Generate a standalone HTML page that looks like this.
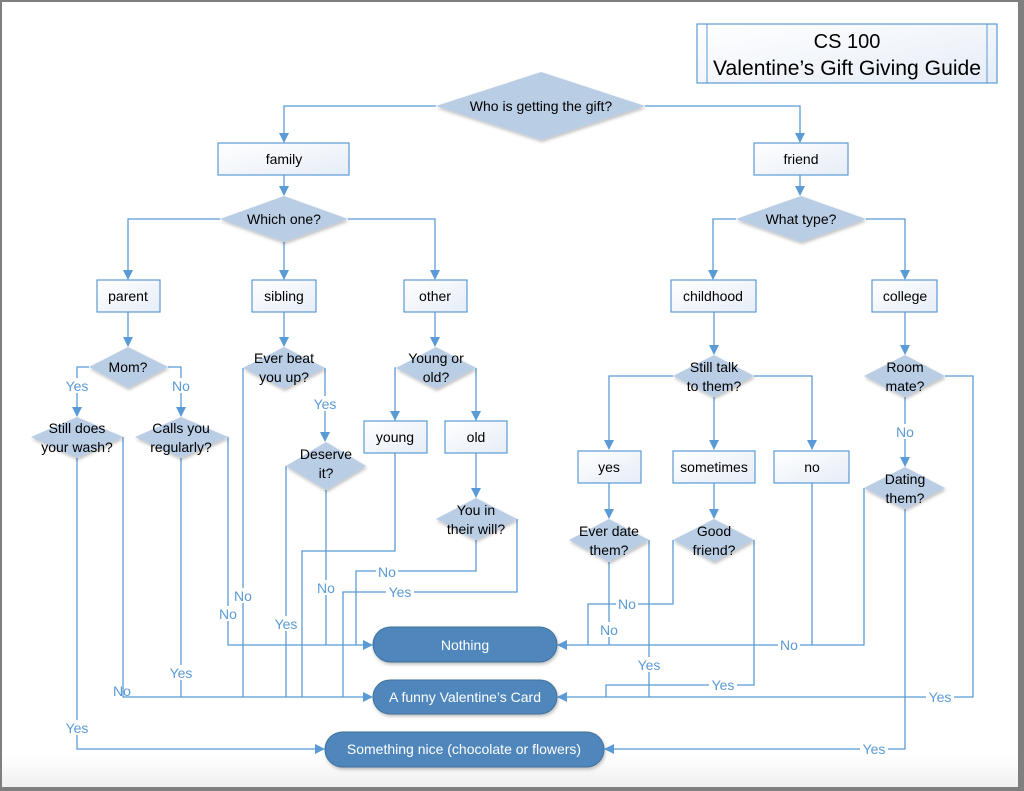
<!DOCTYPE html>
<html><head><meta charset="utf-8"><style>
html,body{margin:0;padding:0;background:#7f7f7f;}
svg{display:block;}
text{font-family:"Liberation Sans",sans-serif;}
</style></head><body>
<svg width="1024" height="791" xmlns="http://www.w3.org/2000/svg">
<defs>
<linearGradient id="bg" x1="0" y1="0" x2="0" y2="1">
<stop offset="0.96" stop-color="#ffffff"/><stop offset="1" stop-color="#f0f0f0"/></linearGradient>
<linearGradient id="bx" x1="0" y1="0" x2="1" y2="1">
<stop offset="0" stop-color="#ffffff"/><stop offset="1" stop-color="#e6edf7"/></linearGradient>
<marker id="a" markerWidth="10" markerHeight="10" refX="9" refY="5" orient="auto" markerUnits="userSpaceOnUse">
<path d="M0,0 L10,5 L0,10 z" fill="#5b9bd5"/></marker>
<filter id="sh" x="-10%" y="-10%" width="130%" height="140%"><feDropShadow dx="1" dy="2" stdDeviation="1.5" flood-color="#000" flood-opacity="0.25"/></filter>
</defs>
<rect x="2" y="2" width="1016" height="785" fill="url(#bg)"/>

<g fill="none" stroke="#5b9bd5" stroke-width="1.3">
<polyline points="436,106 284,106 284,142" marker-end="url(#a)"/>
<polyline points="645,106 800,106 800,142" marker-end="url(#a)"/>
<line x1="284" y1="175" x2="284" y2="195" marker-end="url(#a)"/>
<line x1="800" y1="175" x2="800" y2="195" marker-end="url(#a)"/>
<polyline points="220,219 128,219 128,279" marker-end="url(#a)"/>
<polyline points="348,219 435,219 435,279" marker-end="url(#a)"/>
<line x1="284" y1="242" x2="284" y2="279" marker-end="url(#a)"/>
<polyline points="736,219 713,219 713,279" marker-end="url(#a)"/>
<polyline points="866,219 905,219 905,279" marker-end="url(#a)"/>
<line x1="128" y1="312" x2="128" y2="346" marker-end="url(#a)"/>
<line x1="284" y1="312" x2="284" y2="346" marker-end="url(#a)"/>
<line x1="435" y1="312" x2="435" y2="346" marker-end="url(#a)"/>
<line x1="714" y1="312" x2="714" y2="354" marker-end="url(#a)"/>
<line x1="905" y1="312" x2="905" y2="354" marker-end="url(#a)"/>
<polyline points="89,367 77,367 77,416" marker-end="url(#a)"/>
<polyline points="168,367 181,367 181,416" marker-end="url(#a)"/>
<polyline points="77,458 77,749 324,749" marker-end="url(#a)"/>
<polyline points="123,437 123,697 372,697" marker-end="url(#a)"/>
<line x1="181" y1="458" x2="181" y2="697"/>
<polyline points="228,437 228,645 372,645" marker-end="url(#a)"/>
<polyline points="243,368 243,697"/>
<polyline points="325,368 325,441" marker-end="url(#a)"/>
<polyline points="286,466 286,697"/>
<line x1="326" y1="490" x2="326" y2="645"/>
<polyline points="396,368 395,368 395,420" marker-end="url(#a)"/>
<polyline points="476,368 476,420" marker-end="url(#a)"/>
<line x1="476" y1="453" x2="476" y2="497" marker-end="url(#a)"/>
<polyline points="395,453 395,551 302,551 302,697"/>
<polyline points="476,540 476,571 356,571 356,645"/>
<polyline points="517,519 517,592 343,592 343,697"/>
<polyline points="673,376 609,376 609,449" marker-end="url(#a)"/>
<line x1="714" y1="397" x2="714" y2="449" marker-end="url(#a)"/>
<polyline points="754,376 812,376 812,449" marker-end="url(#a)"/>
<line x1="609" y1="483" x2="609" y2="518" marker-end="url(#a)"/>
<line x1="714" y1="483" x2="714" y2="518" marker-end="url(#a)"/>
<line x1="609" y1="562" x2="609" y2="645"/>
<line x1="649" y1="540" x2="649" y2="697"/>
<polyline points="673,540 673,604 588,604 588,645"/>
<polyline points="754,540 754,685 606,685 606,697"/>
<polyline points="812,483 812,645"/>
<polyline points="864,488 864,645 558,645" marker-end="url(#a)"/>
<line x1="905" y1="397" x2="905" y2="466" marker-end="url(#a)"/>
<polyline points="905,509 905,749 605,749" marker-end="url(#a)"/>
<polyline points="945,376 973,376 973,697 558,697" marker-end="url(#a)"/>
</g>

<rect x="697" y="24" width="300" height="59" fill="url(#bx)" stroke="#5b9bd5" stroke-width="1.2"/>
<line x1="707" y1="24" x2="707" y2="83" stroke="#5b9bd5"/>
<line x1="987" y1="24" x2="987" y2="83" stroke="#5b9bd5"/>
<text x="847" y="48" font-size="20" text-anchor="middle">CS 100</text>
<text x="847" y="75" font-size="21" text-anchor="middle" textLength="268" lengthAdjust="spacingAndGlyphs">Valentine’s Gift Giving Guide</text>

<g fill="#b9cde5" filter="url(#sh)">
<polygon points="541,72 645,106 541,140 436,106"/>
<polygon points="284,196 348,219 284,242 220,219"/>
<polygon points="801,196 866,219 801,242 736,219"/>
<polygon points="128,347 168,367 128,388 89,367"/>
<polygon points="77,417 123,437 77,458 31,437"/>
<polygon points="181,417 228,437 181,458 135,437"/>
<polygon points="284,347 325,368 284,389 243,368"/>
<polygon points="326,442 366,466 326,490 286,466"/>
<polygon points="436,347 476,368 436,389 396,368"/>
<polygon points="476,498 517,519 476,540 436,519"/>
<polygon points="714,355 754,376 714,397 673,376"/>
<polygon points="609,519 649,540 609,562 569,540"/>
<polygon points="714,519 754,540 714,562 673,540"/>
<polygon points="905,355 945,376 905,397 864,376"/>
<polygon points="905,467 945,488 905,509 864,488"/>
</g>
<g font-size="14" text-anchor="middle" fill="#000">
<text x="541" y="111">Who is getting the gift?</text>
<text x="284" y="224">Which one?</text>
<text x="801" y="224">What type?</text>
<text x="128" y="372">Mom?</text>
<text x="77" y="433">Still does</text><text x="77" y="452">your wash?</text>
<text x="181" y="433">Calls you</text><text x="181" y="452">regularly?</text>
<text x="284" y="363">Ever beat</text><text x="284" y="382">you up?</text>
<text x="326" y="459">Deserve</text><text x="326" y="478">it?</text>
<text x="436" y="363">Young or</text><text x="436" y="382">old?</text>
<text x="476" y="515">You in</text><text x="476" y="534">their will?</text>
<text x="714" y="372">Still talk</text><text x="714" y="391">to them?</text>
<text x="609" y="536">Ever date</text><text x="609" y="555">them?</text>
<text x="714" y="536">Good</text><text x="714" y="555">friend?</text>
<text x="905" y="372">Room</text><text x="905" y="391">mate?</text>
<text x="905" y="484">Dating</text><text x="905" y="503">them?</text>
</g>

<g fill="url(#bx)" stroke="#5b9bd5" stroke-width="1.2">
<rect x="218" y="143" width="131" height="32"/>
<rect x="754" y="143" width="94" height="32"/>
<rect x="97" y="280" width="63" height="32"/>
<rect x="252" y="280" width="64" height="32"/>
<rect x="404" y="280" width="63" height="32"/>
<rect x="671" y="280" width="85" height="32"/>
<rect x="872" y="280" width="65" height="32"/>
<rect x="364" y="421" width="63" height="32"/>
<rect x="445" y="421" width="62" height="32"/>
<rect x="578" y="451" width="63" height="32"/>
<rect x="673" y="451" width="82" height="32"/>
<rect x="774" y="451" width="75" height="32"/>
</g>
<g font-size="14" text-anchor="middle" fill="#000">
<text x="284" y="164">family</text>
<text x="801" y="164">friend</text>
<text x="128" y="301">parent</text>
<text x="284" y="301">sibling</text>
<text x="435" y="301">other</text>
<text x="713" y="301">childhood</text>
<text x="905" y="301">college</text>
<text x="395" y="442">young</text>
<text x="476" y="442">old</text>
<text x="609" y="472">yes</text>
<text x="714" y="472">sometimes</text>
<text x="812" y="472">no</text>
</g>

<g fill="#4f86bc" stroke="#41719c" stroke-width="1" filter="url(#sh)">
<rect x="373" y="627" width="184" height="35" rx="17.5"/>
<rect x="373" y="680" width="184" height="34" rx="17"/>
<rect x="325" y="732" width="279" height="35" rx="17.5"/>
</g>
<g font-size="14" text-anchor="middle" fill="#fff">
<text x="465" y="650">Nothing</text>
<text x="465" y="702">A funny Valentine’s Card</text>
<text x="464" y="754">Something nice (chocolate or flowers)</text>
</g>

<g font-size="14" text-anchor="middle" fill="#5b9bd5">
<g fill="#fff" stroke="none">
<rect x="63" y="378" width="28" height="15"/><rect x="170" y="378" width="22" height="15"/>
<rect x="63" y="720" width="28" height="15"/><rect x="167" y="665" width="28" height="15"/>
<rect x="217" y="606" width="22" height="15"/><rect x="232" y="588" width="22" height="15"/>
<rect x="311" y="396" width="28" height="15"/><rect x="272" y="616" width="28" height="15"/>
<rect x="315" y="580" width="22" height="15"/><rect x="376" y="564" width="22" height="15"/>
<rect x="386" y="584" width="28" height="15"/><rect x="598" y="622" width="22" height="15"/>
<rect x="616" y="596" width="22" height="15"/><rect x="635" y="657" width="28" height="15"/>
<rect x="709" y="677" width="28" height="15"/><rect x="778" y="637" width="22" height="15"/>
<rect x="894" y="424" width="22" height="15"/><rect x="926" y="689" width="28" height="15"/>
<rect x="860" y="741" width="28" height="15"/>
</g>
<text x="77" y="391">Yes</text><text x="181" y="391">No</text>
<text x="77" y="733">Yes</text><text x="181" y="678">Yes</text>
<text x="122" y="696">No</text>
<text x="228" y="619">No</text><text x="243" y="601">No</text>
<text x="325" y="409">Yes</text><text x="286" y="629">Yes</text>
<text x="326" y="593">No</text><text x="387" y="577">No</text>
<text x="400" y="597">Yes</text>
<text x="609" y="635">No</text><text x="627" y="609">No</text>
<text x="649" y="670">Yes</text><text x="723" y="690">Yes</text>
<text x="789" y="650">No</text><text x="905" y="437">No</text>
<text x="940" y="702">Yes</text><text x="874" y="754">Yes</text>
</g>
</svg>
</body></html>
